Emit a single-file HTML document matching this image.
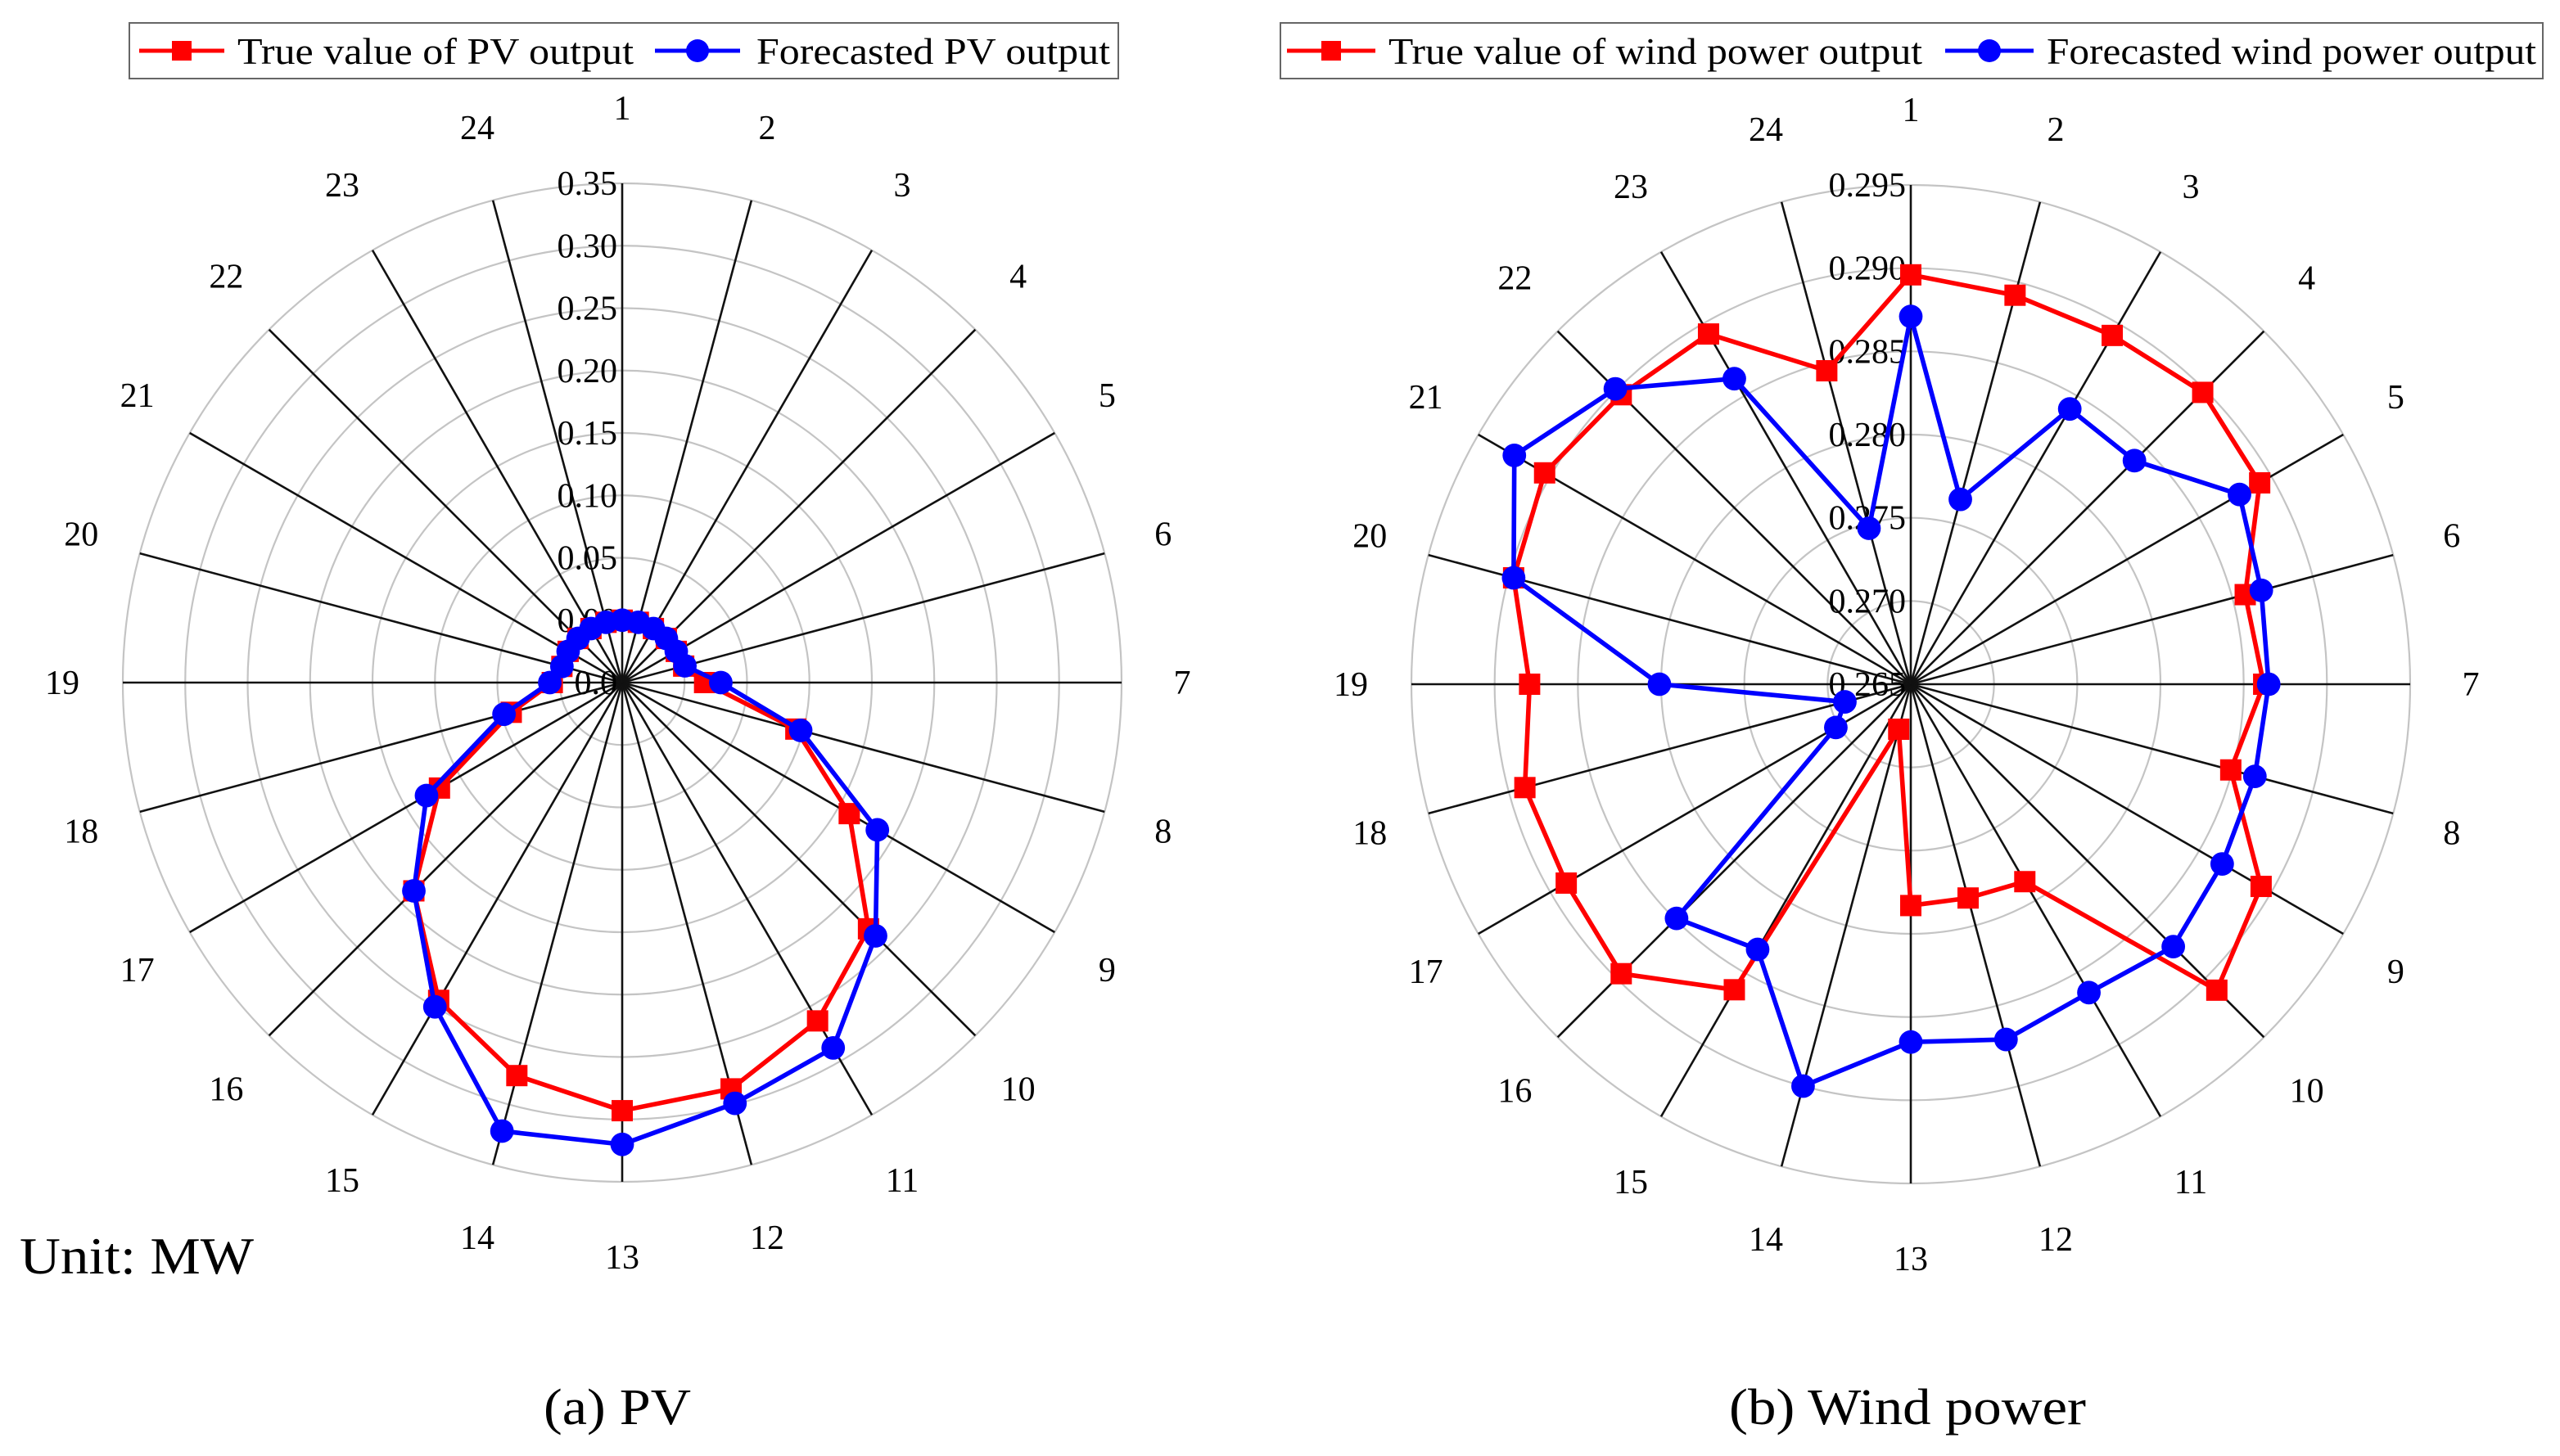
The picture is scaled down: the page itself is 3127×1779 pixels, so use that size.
<!DOCTYPE html>
<html><head><meta charset="utf-8"><style>
html,body{margin:0;padding:0;background:#fff}
svg{display:block}
text{font-family:"Liberation Serif",serif;fill:#000}
</style></head><body>
<svg id="root" width="3127" height="1779" viewBox="0 0 1563.5 889.5" xmlns="http://www.w3.org/2000/svg">
<g id="pv"></g>
<g id="wind"></g>
<g>
<rect x="79" y="14" width="604" height="34" fill="#fff" stroke="#666" stroke-width="1"/>
<line x1="85" y1="31" x2="137" y2="31" stroke="#f00" stroke-width="2.5"/>
<rect x="105" y="25" width="12" height="12" fill="#f00"/>
<text x="145" y="39" font-size="23" textLength="242" lengthAdjust="spacingAndGlyphs">True value of PV output</text>
<line x1="400" y1="31" x2="452" y2="31" stroke="#00f" stroke-width="2.5"/>
<circle cx="426" cy="31" r="7" fill="#00f"/>
<text x="462" y="39" font-size="23" textLength="216" lengthAdjust="spacingAndGlyphs">Forecasted PV output</text>
</g>
<g>
<rect x="782" y="14" width="771" height="34" fill="#fff" stroke="#666" stroke-width="1"/>
<line x1="786" y1="31" x2="840" y2="31" stroke="#f00" stroke-width="2.5"/>
<rect x="807" y="25" width="12" height="12" fill="#f00"/>
<text x="848" y="39" font-size="23" textLength="326" lengthAdjust="spacingAndGlyphs">True value of wind power output</text>
<line x1="1188" y1="31" x2="1242" y2="31" stroke="#00f" stroke-width="2.5"/>
<circle cx="1215" cy="31" r="7" fill="#00f"/>
<text x="1250" y="39" font-size="23" textLength="299" lengthAdjust="spacingAndGlyphs">Forecasted wind power output</text>
</g>
<text x="12" y="778" font-size="32" textLength="143" lengthAdjust="spacingAndGlyphs">Unit: MW</text>
<text x="377" y="870" font-size="31" text-anchor="middle" textLength="90" lengthAdjust="spacingAndGlyphs">(a) PV</text>
<text x="1165" y="870" font-size="31" text-anchor="middle" textLength="218" lengthAdjust="spacingAndGlyphs">(b) Wind power</text>
</svg>
<script>
const hours = [1,2,3,4,5,6,7,8,9,10,11,12,13,14,15,16,17,18,19,20,21,22,23,24];
const pvTrue = [0,0,0,0,0,0.001,0.016,0.094,0.16,0.229,0.263,0.287,0.293,0.276,0.244,0.186,0.119,0.042,0.006,0,0,0,0,0];
const pvForecast = [0,0,0,0,0,0.002,0.029,0.098,0.186,0.237,0.288,0.299,0.32,0.322,0.25,0.186,0.131,0.048,0.008,0,0,0,0,0];
const pvTicks = [-0.05,0,0.05,0.10,0.15,0.20,0.25,0.30,0.35];
const pvTickLabels = ["0.0","0.00","0.05","0.10","0.15","0.20","0.25","0.30","0.35"];
const windTrue = [0.2896,0.2892,0.2892,0.2898,0.2892,0.2858,0.2862,0.2849,0.2893,0.291,0.2787,0.2783,0.2783,0.2678,0.2862,0.2896,0.2889,0.289,0.2879,0.2897,0.2904,0.2896,0.2893,0.2845];
const windForecast = [0.2871,0.2765,0.2841,0.284,0.2878,0.2868,0.2865,0.2864,0.2866,0.2873,0.2864,0.2871,0.2865,0.290,0.2834,0.2849,0.2702,0.2691,0.2801,0.2897,0.2925,0.2901,0.2862,0.2747];
const windTicks = [0.265,0.270,0.275,0.280,0.285,0.290,0.295];
const windTickLabels = ["0.265","0.270","0.275","0.280","0.285","0.290","0.295"];

const NS="http://www.w3.org/2000/svg";
function mk(tag,attrs,parent){const e=document.createElementNS(NS,tag);for(const k in attrs)e.setAttribute(k,attrs[k]);parent.appendChild(e);return e;}

function radar(g,cx,cy,R,min,max,ticks,tickLabels,trueV,foreV,prefix){
  const r=v=>(v-min)/(max-min)*R;
  const pt=(i,v)=>{const a=i*Math.PI/12;const d=r(v);return [cx+d*Math.sin(a),cy-d*Math.cos(a)];};
  ticks.forEach((t,i)=>{ if(i===0)return;
    const c=mk('circle',{cx:cx,cy:cy,r:r(t),fill:'none',stroke:'#c4c4c4','stroke-width':1.1},g);
    
    
  });
  hours.forEach((h,i)=>{
    const [x,y]=pt(i,max);
    const l=mk('line',{x1:cx,y1:cy,x2:x,y2:y,stroke:'#111','stroke-width':1.3},g);
    
    
    const a=i*Math.PI/12;
    const t=mk('text',{x:cx+(R+37)*Math.sin(a),y:cy-(R+46)*Math.cos(a)+7,'font-size':21,'text-anchor':'middle'},g);
    t.textContent=h;
    
    
  });
  ticks.forEach((t,i)=>{
    const tx=mk('text',{x:cx-3,y:cy-r(t)+7,'font-size':21,'text-anchor':'end'},g);
    tx.textContent=tickLabels[i];
    
    
  });
  function series(vals,color,shape,name){
    const pts=vals.map((v,i)=>pt(i,v));
    const pg=mk('polygon',{points:pts.map(p=>p.join(',')).join(' '),fill:'none',stroke:color,'stroke-width':2.8,'stroke-linejoin':'round'},g);
    
    
    pts.forEach((p,i)=>{
      let m;
      if(shape==='sq') m=mk('rect',{x:p[0]-6.5,y:p[1]-6.5,width:13,height:13,fill:color},g);
      else m=mk('circle',{cx:p[0],cy:p[1],r:7.2,fill:color},g);
      
      
    });
  }
  series(trueV,'#ff0000','sq',prefix+'-true');
  series(foreV,'#0000ff','ci',prefix+'-forecast');
}
radar(document.getElementById('pv'),380,417,305,-0.05,0.35,pvTicks,pvTickLabels,pvTrue,pvForecast,'pv');
radar(document.getElementById('wind'),1167,418,305,0.265,0.295,windTicks,windTickLabels,windTrue,windForecast,'wind');
</script>
</body></html>
